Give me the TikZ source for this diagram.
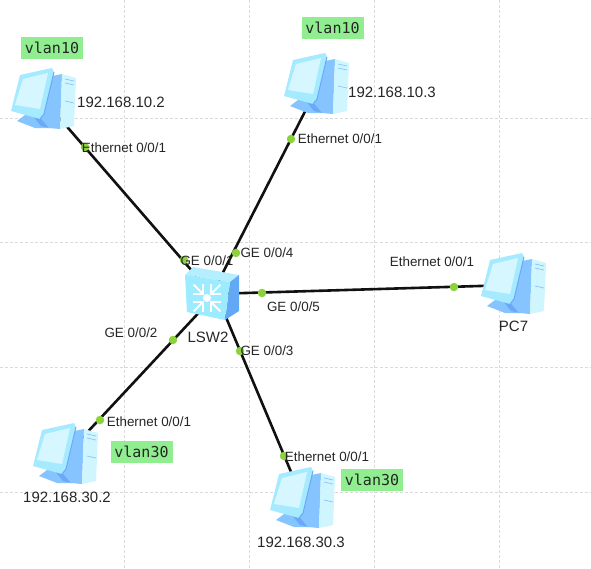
\documentclass[tikz,border=0pt]{standalone}
\usepackage{fontspec}
\setmainfont{Liberation Sans}
\newfontfamily\vlanfont{DejaVu Sans Mono}
\definecolor{gridc}{HTML}{DADADA}
\definecolor{linkc}{HTML}{111111}
\definecolor{dotc}{HTML}{8CD23C}
\definecolor{vlanc}{HTML}{90EE90}
\definecolor{framec}{HTML}{A6EAFF}
\definecolor{screenc}{HTML}{D6F7FF}
\definecolor{midc}{HTML}{86C4FF}
\definecolor{darkc}{HTML}{6AA8F8}
\definecolor{towerc}{HTML}{CFF5FF}
\definecolor{swfront}{HTML}{9CEBFF}
\definecolor{swtop}{HTML}{B4EEFF}
\definecolor{swright}{HTML}{62A8F5}
\tikzset{
 x=1pt,y=-1pt,
 gridline/.style={gridc,line width=0.8pt,dash pattern=on 3pt off 2pt},
 hook/.style={inner sep=0pt,minimum size=1pt},
 swhook/.style={inner sep=0pt,minimum size=8pt},
 link/.style={linkc,line width=2.6pt},
 portdot/.style={circle,fill=dotc,inner sep=0pt,minimum size=8.5pt},
 portlabel/.style={inner sep=0pt,font=\fontsize{13.4}{14}\selectfont,text=black!85,text height=9.6pt,text depth=0pt},
 devlabel/.style={inner sep=0pt,font=\fontsize{15}{15}\selectfont,text=black!85,text height=10.6pt,text depth=0pt},
 vlantag/.style={fill=vlanc,inner sep=0pt,minimum width=62pt,minimum height=22pt,font=\vlanfont\fontsize{15}{15}\selectfont,text=black!85},
}
\newcommand{\pcicon}[2]{%
 \begin{scope}[shift={(#1,#2)}]
  % base
  \fill[midc] (6,53) -- (14,47) -- (29,48) -- (39,60) -- (24,60) -- cycle;
  \fill[darkc] (22,48) -- (29,48) -- (39,60) -- (30,58) -- cycle;
  % tower
  \fill[midc] (41,8) -- (51,6) -- (49,61) -- (38,60) -- (28,48) -- cycle;
  \fill[towerc] (51,6) -- (65,10) -- (63,58) -- (49,61) -- cycle;
  \draw[midc,line width=0.7pt] (54,11) -- (63,13) (54,15) -- (63,17) (54,33) -- (63,35);
  % monitor
  \fill[framec] (0,43) -- (9,7) -- (41,0) -- (43,4) -- (33,46) -- (29,51) -- cycle;
  \fill[screenc] (4,37) -- (12,11) -- (37,5) -- (29,41) -- cycle;
  \draw[darkc,line width=1pt] (43,4) -- (33,46) -- (29,51);
 \end{scope}}
\newcommand{\chevron}[3]{%
 \begin{scope}[shift={(#1,#2)},rotate=#3]
  \draw[white,line width=1.9pt] (-7,-13) -- (0,-6) -- (7,-13);
  \draw[white,line width=1.9pt] (0,-6) -- (0,-19);
 \end{scope}}
\begin{document}
\begin{tikzpicture}
\useasboundingbox (0,0) rectangle (591,568);
\fill[white] (0,0) rectangle (591,568);
% grid
\foreach \gx in {124.5,249,374,499} \draw[gridline] (\gx,0) -- (\gx,568);
\foreach \gy in {118,242.5,367.5,492.5} \draw[gridline] (0,\gy) -- (591,\gy);
% connection hooks of devices
\node[swhook] (sw) at (212,294) {};
\node[hook] (pca) at (43,99) {};
\node[hook] (pcb) at (319,84) {};
\node[hook] (pcc) at (513,285) {};
\node[hook] (pcd) at (67,454) {};
\node[hook] (pce) at (302,498) {};
% links
\draw[link] (sw.center) -- (pca.center);
\draw[link] (sw.center) -- (pcb.center);
\draw[link] (sw.center) -- (pcc.center);
\draw[link] (sw.east) -- (pcd.center);
\draw[link] (sw.east) -- (pce.center);
% icons
\pcicon{11}{68}
\pcicon{284}{53}
\pcicon{481}{253}
\pcicon{33}{423}
\pcicon{270}{467}
% switch
\begin{scope}[shift={(185,267)}]
 \fill[swtop] (0,8) -- (8,0) -- (54,8) -- (45,15) -- cycle;
 \fill[swright] (45,15) -- (54,8) -- (54,44) -- (40,53) -- cycle;
 \fill[swfront] (0,8) -- (45,15) -- (40,53) -- (2,45) -- cycle;
 \fill[white] (22,31) circle (4pt);
 \chevron{22}{31}{-45}
 \chevron{22}{31}{45}
 \chevron{22}{31}{135}
 \chevron{22}{31}{225}
\end{scope}
% port dots
\node[portdot] (d1) at (85,147) {};
\node[portdot] (d2) at (184,260) {};
\node[portdot] (d3) at (291,139) {};
\node[portdot] (d4) at (236,253) {};
\node[portdot] (d5) at (262,293) {};
\node[portdot] (d6) at (454,287) {};
\node[portdot] (d7) at (173,340) {};
\node[portdot] (d8) at (100,420) {};
\node[portdot] (d9) at (240,351) {};
\node[portdot] (d10) at (284,456) {};
% port labels
\node[portlabel] (p1) at (124,148) {Ethernet 0/0/1};
\node[portlabel] (p2) at (207,261) {GE 0/0/1};
\node[portlabel] (p3) at (340,139) {Ethernet 0/0/1};
\node[portlabel] (p4) at (267,253) {GE 0/0/4};
\node[portlabel] (p5) at (293.5,307) {GE 0/0/5};
\node[portlabel] (p6) at (432,262) {Ethernet 0/0/1};
\node[portlabel] (p7) at (131,333) {GE 0/0/2};
\node[portlabel] (p8) at (149,422) {Ethernet 0/0/1};
\node[portlabel] (p9) at (267,351) {GE 0/0/3};
\node[portlabel] (p10) at (327,457) {Ethernet 0/0/1};
% device labels
\node[devlabel] (l1) at (121,102) {192.168.10.2};
\node[devlabel] (l2) at (392,92) {192.168.10.3};
\node[devlabel] (l3) at (208,337) {LSW2};
\node[devlabel] (l4) at (513.5,326) {PC7};
\node[devlabel] (l5) at (67,497) {192.168.30.2};
\node[devlabel] (l6) at (301,542) {192.168.30.3};
% vlan tags
\node[vlantag] (v1) at (52,48) {vlan10};
\node[vlantag] (v2) at (332.5,28) {vlan10};
\node[vlantag] (v3) at (141.5,452) {vlan30};
\node[vlantag] (v4) at (372,480) {vlan30};
\end{tikzpicture}
\end{document}
